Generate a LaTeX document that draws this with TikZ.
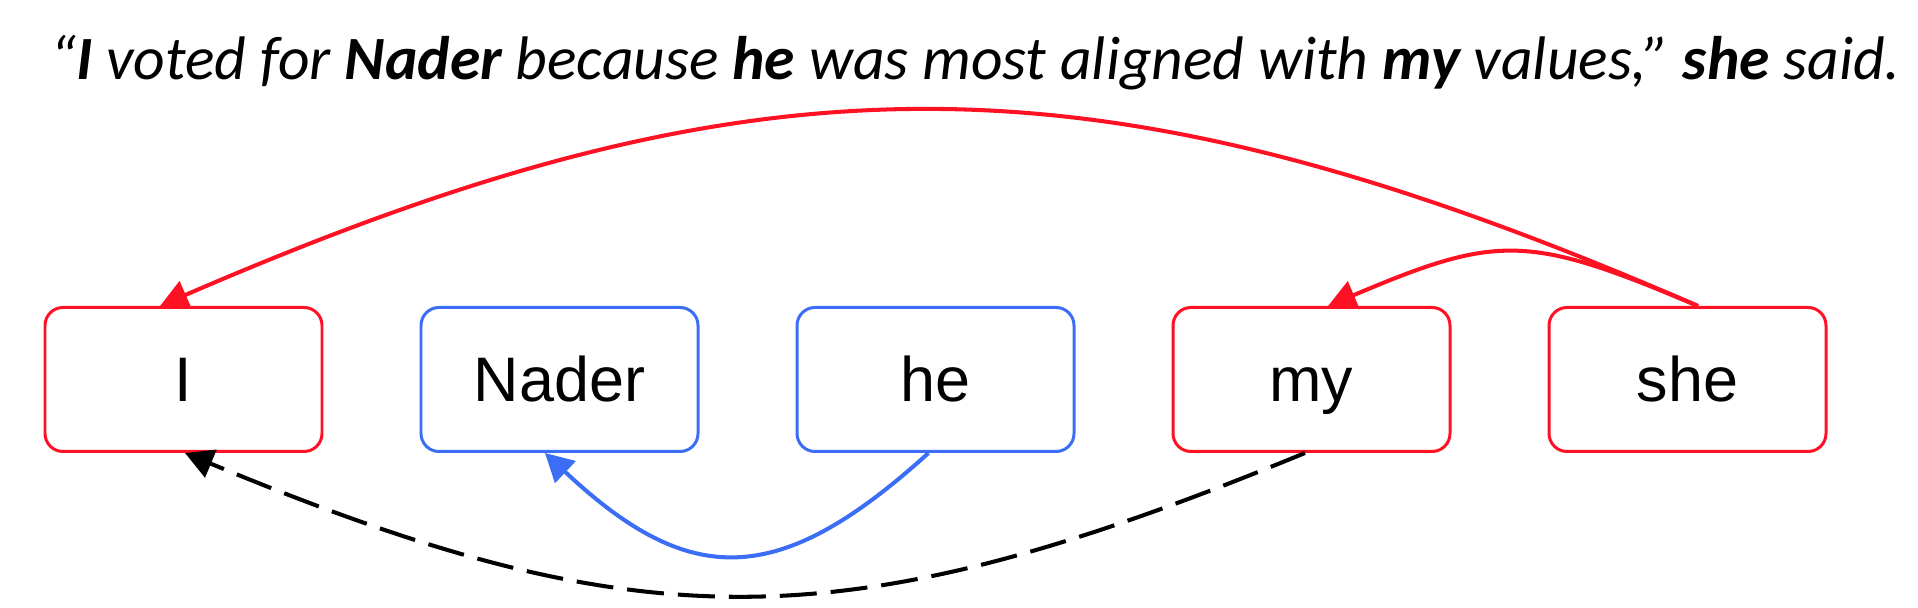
\documentclass[tikz,border=0pt]{standalone}
\usepackage{fontspec}
\usepackage{xcolor}
\usepackage{tikz}
\usetikzlibrary{arrows.meta, positioning}

\setmainfont{Carlito}
\newfontfamily\tokfont{Liberation Sans}

\definecolor{corefred}{HTML}{FF1124}
\definecolor{corefblue}{HTML}{3C6EF5}

\begin{document}
\begin{tikzpicture}[
    tok/.style={draw, rounded corners=0.36cm, line width=1.7pt, minimum width=5.54cm, minimum height=2.88cm,
        inner sep=0pt, text height=25.6pt, text depth=0pt, font=\tokfont\fontsize{35.8}{42}\selectfont},
    redtok/.style={tok, draw=corefred},
    bluetok/.style={tok, draw=corefblue},
    arr/.style={-{Triangle[length=0.56cm, width=0.59cm]}, line width=2.3pt},
]
\useasboundingbox (0,0) rectangle (38.36,12.16);

% Sentence
\node[anchor=base, inner sep=0pt, font=\fontsize{35}{40}\selectfont\itshape] (sent) at (19.51,10.56)
    {“\textbf{I} voted for \textbf{Nader} because \textbf{he} was most aligned with \textbf{my} values,” \textbf{she} said.};

% Mentions
\node[redtok] (i) at (3.67, 4.57) {I};
\node[bluetok] (nader) at (11.19, 4.57) {Nader};
\node[bluetok] (he) at (18.71, 4.57) {he};
\node[redtok] (my) at (26.23, 4.57) {my};
\node[redtok] (she) at (33.75, 4.57) {she};

% Links
\draw[arr, corefred] ([xshift=0.21cm]she.north) .. controls +(-12.0,5.22) and +(12.04,5.22) .. ([xshift=-0.47cm]i.north);
\draw[arr, corefred] ([xshift=0.21cm]she.north) .. controls +(-3.4,1.44) and +(3.4,1.44) .. ([xshift=0.33cm]my.north);
\draw[arr, corefblue] ([xshift=-0.14cm]he.south) .. controls +(-3.0,-2.72) and +(2.9,-2.72) .. ([xshift=-0.29cm]nader.south);
\draw[arr, dash pattern=on 0.74cm off 0.28cm] ([xshift=-0.13cm]my.south) .. controls +(-9.24,-3.8) and +(9.16,-3.8) .. ([xshift=0.03cm]i.south);
\end{tikzpicture}
\end{document}
